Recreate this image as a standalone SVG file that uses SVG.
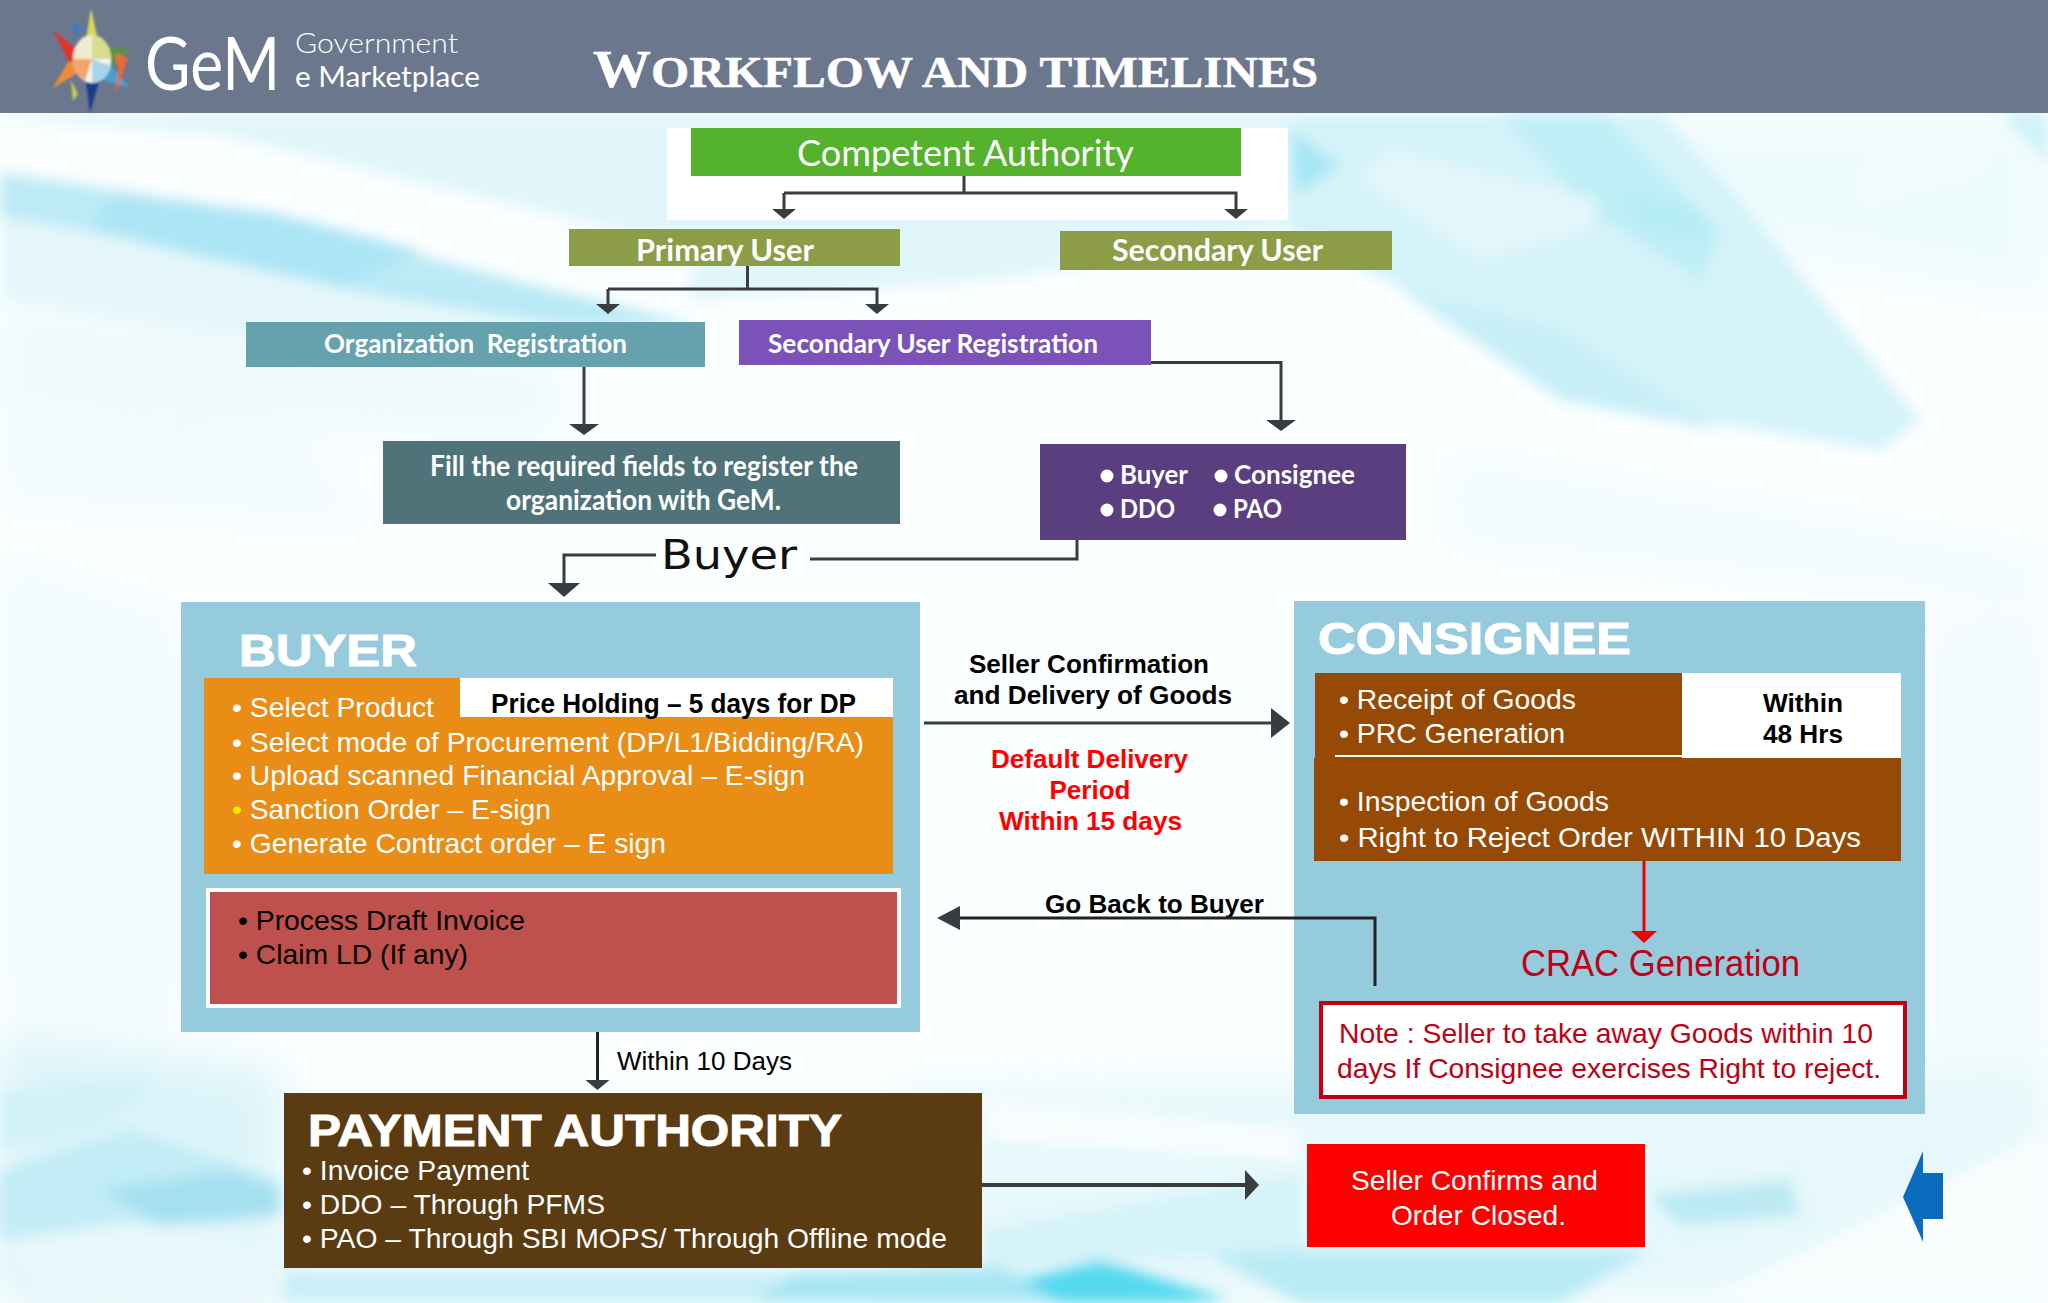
<svg xmlns="http://www.w3.org/2000/svg" width="2048" height="1303" viewBox="0 0 2048 1303">
<style>
.la{font-family:Lato,"Open Sans","Noto Sans",sans-serif;fill:#fff}
.ab{font-family:"Liberation Sans",Arial,sans-serif;font-weight:700}
.a{font-family:"Liberation Sans",Arial,sans-serif}
.w{fill:#fff}.k{fill:#000}.r{fill:#f00}.cr{fill:#c00014}
.h{font-family:"Liberation Sans",Arial,sans-serif;font-weight:700;fill:#fff;stroke:#fff;stroke-width:1}
.t{font-size:28px}
.c{fill:none;stroke:#3a3d40;stroke-width:3}
.hd{fill:#3a3d40}
</style>
<defs>
<filter id="b1" x="-20%" y="-20%" width="140%" height="140%"><feGaussianBlur stdDeviation="7"/></filter>
<filter id="b3" x="-20%" y="-20%" width="140%" height="140%"><feGaussianBlur stdDeviation="22"/></filter>
<filter id="b2" x="-5%" y="-5%" width="110%" height="110%"><feGaussianBlur stdDeviation="1.2"/></filter>
<marker id="s" markerUnits="userSpaceOnUse" markerWidth="24" markerHeight="24" refX="0" refY="12" orient="auto"><path class="hd" d="M0 0L10 12L0 24z"/></marker>
<marker id="m" markerUnits="userSpaceOnUse" markerWidth="30" markerHeight="30" refX="0" refY="15" orient="auto"><path class="hd" d="M0 0L11 15L0 30z"/></marker>
<marker id="b" markerUnits="userSpaceOnUse" markerWidth="32" markerHeight="32" refX="0" refY="16" orient="auto"><path class="hd" d="M0 0L14 16L0 32z"/></marker>
<marker id="n" markerUnits="userSpaceOnUse" markerWidth="15" markerHeight="30" refX="0" refY="15" orient="auto"><path class="hd" d="M0 0L14 15L0 30z"/></marker>
<marker id="l" markerUnits="userSpaceOnUse" markerWidth="20" markerHeight="30" refX="0" refY="15" orient="auto"><path class="hd" d="M0 0L19 15L0 30z"/></marker>
<marker id="g" markerUnits="userSpaceOnUse" markerWidth="24" markerHeight="24" refX="0" refY="12" orient="auto"><path class="hd" d="M0 0L23 12L0 24z"/></marker>
<marker id="red" markerUnits="userSpaceOnUse" markerWidth="26" markerHeight="26" refX="0" refY="13" orient="auto"><path fill="#f00000" d="M0 0L12 13L0 26z"/></marker>
</defs>

<g id="background">
<rect width="2048" height="1303" fill="#fbfeff"/>
<g filter="url(#b3)">
<polygon points="1290,113 2048,113 2048,300 1700,240 1600,113" fill="#eefbfd"/>
<polygon points="0,300 560,360 560,440 0,420" fill="#eefafc"/>
<polygon points="0,400 300,450 380,520 0,500" fill="#f1fbfd"/>
<polygon points="0,1030 280,1070 280,1290 0,1303" fill="#dcf4f9"/>
<polygon points="900,1090 2048,1070 2048,1303 900,1303" fill="#e6f8fb"/>
<polygon points="1450,460 2048,560 2048,600 1450,540" fill="#f0fbfd"/>
<polygon points="1930,620 2048,620 2048,1070 1930,1070" fill="#f2fbfd"/>
<polygon points="0,560 180,620 180,1030 0,1000" fill="#f1fbfd"/>
</g>
<g filter="url(#b1)">
<polygon points="0,113 700,113 1290,113 1290,230 1000,280 700,300 350,200 0,120" fill="#e1f6fa"/>
<polygon points="0,118 220,135 700,250 680,310 330,215 0,170" fill="#fafeff"/>
<polygon points="0,172 268,213 535,286 700,325 560,325 360,292 230,268 90,232 0,218" fill="#bdeaf6"/>
<polygon points="110,195 270,212 420,250 340,290 230,265 90,228" fill="#ace5f5"/>
<polygon points="350,280 530,285 680,320 560,325 360,310" fill="#b8e9f5"/>
<polygon points="0,218 90,232 360,292 560,325 300,350 0,300" fill="#e6f7fb"/>
<polygon points="1290,113 1660,113 1740,200 1920,420 1880,450 1700,420 1500,340 1290,230" fill="#d4f3f9"/>
<polygon points="1290,130 1340,165 1295,195" fill="#a6e6f5"/>
<polygon points="1500,113 1600,113 1720,230 1700,280 1590,210" fill="#bfeef7"/>
<polygon points="1390,150 1600,200 1590,230 1480,260 1360,180" fill="#e3f7fb"/>
<polygon points="1400,290 1560,330 1720,430 1560,400" fill="#c8eff7"/>
<polygon points="1620,190 1700,210 1710,240 1640,230" fill="#b6ecf6"/>
<polygon points="1880,113 1990,113 1980,170 1860,200" fill="#f4fcfe"/>
<polygon points="2000,113 2048,113 2048,165" fill="#cff2f9"/>
<polygon points="0,1170 130,1130 280,1180 280,1210 120,1230 0,1240" fill="#c2ecf6"/>
<polygon points="100,1190 230,1170 280,1190 280,1215 160,1225" fill="#a5e0f0"/>
<polygon points="0,1090 160,1080 100,1130 0,1150" fill="#d2f1f8"/>
<polygon points="0,1240 130,1222 284,1240 284,1303 40,1303" fill="#e8f8fb"/>
<polygon points="284,1270 1000,1270 1200,1303 284,1303" fill="#c9eff7"/>
<polygon points="800,1272 1000,1268 1100,1303 750,1303" fill="#a8e6f4"/>
<polygon points="1020,1280 1100,1260 1230,1300 1180,1303 1060,1303" fill="#55d9ef"/>
<polygon points="1200,1250 1650,1250 1560,1303 1300,1303" fill="#b9ebf5"/>
<polygon points="1650,1195 1790,1180 1800,1215 1680,1225" fill="#bce9f3"/>
<polygon points="1700,1303 2048,1130 2048,1303" fill="#f8fdfe"/>
<polygon points="985,1100 1300,1130 1300,1160 985,1140" fill="#f8fdfe"/>
<polygon points="985,1230 1300,1175 1300,1250 985,1268" fill="#d4f3f9"/>
</g>
<rect x="667" y="128" width="621" height="92" fill="#fff"/>
</g>

<g id="header">
<rect width="2048" height="113" fill="#6b778d"/>
<g id="logo" filter="url(#b2)">
<polygon points="91,8 98,40 104,60 80,60 86,40" fill="#dcd55a"/>
<polygon points="130,50 104,46 100,62 112,66" fill="#5a9440"/>
<polygon points="53,30 68,42 86,60 74,72 66,56" fill="#e4312b"/>
<polygon points="53,88 68,62 82,58 86,68" fill="#ef8a3a"/>
<polygon points="130,88 108,62 90,68 96,78" fill="#4a9fd0"/>
<polygon points="90,113 86,82 92,68 100,78" fill="#1c3c88"/>
<polygon points="72,23 88,30 78,32 76,42" fill="#3f7dbb"/>
<polygon points="130,60 118,96 120,72 117,55" fill="#e8693a" transform="translate(-2 -2)"/>
<polygon points="71,80 78,94 73,101" fill="#c9cc53"/>
<ellipse cx="92" cy="59" rx="19" ry="24" fill="#f4f4ee"/>
<path d="M92 35A19 24 0 0 1 111 59L92 59z" fill="#d9dc8e"/>
<path d="M92 59L73 59A19 24 0 0 1 92 35z" fill="#f2ead0"/>
<path d="M92 59L73 59A19 24 0 0 0 85 81z" fill="#f2a66e"/>
<path d="M92 59L111 66A19 24 0 0 1 92 83z" fill="#a8d3ea"/>
</g>
<text class="la" x="145" y="90" font-size="73" font-weight="400" textLength="135" lengthAdjust="spacingAndGlyphs">GeM</text>
<text class="la" x="295" y="53" font-size="28" font-weight="300" textLength="163" lengthAdjust="spacingAndGlyphs">Government</text>
<text class="la" x="295" y="87" font-size="28" textLength="185" lengthAdjust="spacingAndGlyphs">e Marketplace</text>
<text id="title" x="593" y="87" font-family="'Liberation Serif',serif" font-weight="700" fill="#fff" stroke="#fff" stroke-width=".5" font-size="44" textLength="725" lengthAdjust="spacingAndGlyphs"><tspan font-size="52">W</tspan>ORKFLOW AND TIMELINES</text>
</g>

<g id="competent-authority"><rect x="691" y="128" width="550" height="48" fill="#55b22c"/>
<text class="la" x="797" y="166" font-size="37" textLength="337" lengthAdjust="spacingAndGlyphs">Competent Authority</text></g>
<g id="primary-user"><rect x="569" y="229" width="331" height="37" fill="#8c9c47"/>
<text class="la" x="636" y="261" font-size="31" font-weight="700" textLength="178" lengthAdjust="spacingAndGlyphs">Primary User</text></g>
<g id="secondary-user"><rect x="1060" y="231" width="332" height="39" fill="#8c9c47"/>
<text class="la" x="1112" y="261" font-size="31" font-weight="700" textLength="211" lengthAdjust="spacingAndGlyphs">Secondary User</text></g>
<g id="organization-registration"><rect x="246" y="322" width="459" height="45" fill="#66a2ad"/>
<text class="la" x="324" y="353" font-size="27" font-weight="700" style="white-space:pre" textLength="303" lengthAdjust="spacingAndGlyphs">Organization  Registration</text></g>
<g id="secondary-user-registration"><rect x="739" y="320" width="412" height="45" fill="#7a52b8"/>
<text class="la" x="768" y="353" font-size="27" font-weight="700" textLength="330" lengthAdjust="spacingAndGlyphs">Secondary User Registration</text></g>
<g id="fill-fields"><rect x="383" y="441" width="517" height="83" fill="#4f7378"/>
<text class="la" x="430" y="476" font-size="28" font-weight="700" textLength="428" lengthAdjust="spacingAndGlyphs">Fill the required fields to register the</text>
<text class="la" x="506" y="510" font-size="28" font-weight="700" textLength="275" lengthAdjust="spacingAndGlyphs">organization with GeM.</text></g>
<g id="roles"><rect x="1040" y="444" width="366" height="96" fill="#5a3e80"/>
<g class="la" font-size="27" font-weight="700">
<circle cx="1107" cy="476" r="6.500" fill="#fff"/><text class="la" x="1120" y="484" textLength="68" lengthAdjust="spacingAndGlyphs">Buyer</text>
<circle cx="1221" cy="476" r="6.500" fill="#fff"/><text class="la" x="1234" y="484" textLength="121" lengthAdjust="spacingAndGlyphs">Consignee</text>
<circle cx="1107" cy="510" r="6.500" fill="#fff"/><text class="la" x="1120" y="518" textLength="55" lengthAdjust="spacingAndGlyphs">DDO</text>
<circle cx="1220" cy="510" r="6.500" fill="#fff"/><text class="la" x="1233" y="518" textLength="49" lengthAdjust="spacingAndGlyphs">PAO</text>
</g></g>
<text id="buyer-label" x="661" y="569" font-family="'DejaVu Sans',sans-serif" font-size="40" fill="#111" textLength="136" lengthAdjust="spacingAndGlyphs">Buyer</text>

<g id="buyer"><rect x="181" y="602" width="739" height="430" fill="#96cadd"/>
<text class="h" x="239" y="666" font-size="45" textLength="178" lengthAdjust="spacingAndGlyphs">BUYER</text>
<rect x="204" y="678" width="689" height="196" fill="#e98d16"/>
<rect x="460" y="678" width="433" height="39" fill="#fff"/>
<text class="ab k" x="491" y="713" font-size="27" textLength="365" lengthAdjust="spacingAndGlyphs">Price Holding – 5 days for DP</text>
<g class="a w t">
<text x="232" y="717" textLength="202" lengthAdjust="spacingAndGlyphs">• Select Product</text>
<text x="232" y="752" textLength="632" lengthAdjust="spacingAndGlyphs">• Select mode of Procurement (DP/L1/Bidding/RA)</text>
<text x="232" y="785" textLength="573" lengthAdjust="spacingAndGlyphs">• Upload scanned Financial Approval – E-sign</text>
<text x="232" y="819" textLength="319" lengthAdjust="spacingAndGlyphs"><tspan fill="#ffe800">•</tspan> Sanction Order – E-sign</text>
<text x="232" y="853" textLength="434" lengthAdjust="spacingAndGlyphs">• Generate Contract order – E sign</text>
</g>
<rect x="208" y="890" width="691" height="116" fill="#be504d" stroke="#fff" stroke-width="4"/>
<g class="a k t">
<text x="238" y="930" textLength="287" lengthAdjust="spacingAndGlyphs">• Process Draft Invoice</text>
<text x="238" y="964" textLength="230" lengthAdjust="spacingAndGlyphs">• Claim LD (If any)</text>
</g></g>

<g id="delivery-labels">
<text class="ab k" x="969" y="673" font-size="26" textLength="240" lengthAdjust="spacingAndGlyphs">Seller Confirmation</text>
<text class="ab k" x="954" y="704" font-size="26" textLength="278" lengthAdjust="spacingAndGlyphs">and Delivery of Goods</text>
<text class="ab r" x="991" y="768" font-size="26" textLength="197" lengthAdjust="spacingAndGlyphs">Default Delivery</text>
<text class="ab r" x="1090" y="799" font-size="26" text-anchor="middle">Period</text>
<text class="ab r" x="999" y="830" font-size="26" textLength="183" lengthAdjust="spacingAndGlyphs">Within 15 days</text>
<text class="ab k" x="1045" y="913" font-size="26" textLength="219" lengthAdjust="spacingAndGlyphs">Go Back to Buyer</text>
</g>

<g id="consignee"><rect x="1294" y="601" width="631" height="513" fill="#96cadd"/>
<text class="h" x="1318" y="654" font-size="45" textLength="313" lengthAdjust="spacingAndGlyphs">CONSIGNEE</text>
<rect x="1315" y="673" width="367" height="85" fill="#964a06"/>
<rect x="1682" y="673" width="219" height="85" fill="#fff"/>
<rect x="1314" y="758" width="587" height="103" fill="#964a06"/>
<rect x="1335" y="755" width="347" height="2" fill="#fff"/>
<g class="a w t">
<text x="1339" y="709" textLength="237" lengthAdjust="spacingAndGlyphs">• Receipt of Goods</text>
<text x="1339" y="743" textLength="226" lengthAdjust="spacingAndGlyphs">• PRC Generation</text>
<text x="1339" y="811" textLength="270" lengthAdjust="spacingAndGlyphs">• Inspection of Goods</text>
<text x="1339" y="847" textLength="522" lengthAdjust="spacingAndGlyphs">• Right to Reject Order WITHIN 10 Days</text>
</g>
<text class="ab k" x="1763" y="712" font-size="26" textLength="80" lengthAdjust="spacingAndGlyphs">Within</text>
<text class="ab k" x="1763" y="743" font-size="26" textLength="80" lengthAdjust="spacingAndGlyphs">48 Hrs</text>
<text class="a cr" x="1521" y="976" font-size="36" textLength="279" lengthAdjust="spacingAndGlyphs">CRAC Generation</text>
<rect x="1321" y="1003" width="584" height="94" fill="#fff" stroke="#c00014" stroke-width="4"/>
<text class="a cr t" x="1339" y="1043" textLength="534" lengthAdjust="spacingAndGlyphs">Note : Seller to take away Goods within 10</text>
<text class="a cr t" x="1337" y="1078" textLength="544" lengthAdjust="spacingAndGlyphs">days If Consignee exercises Right to reject.</text>
</g>

<text id="within-10-days" class="a k" x="617" y="1070" font-size="26" textLength="175" lengthAdjust="spacingAndGlyphs">Within 10 Days</text>

<g id="payment-authority"><rect x="284" y="1093" width="698" height="175" fill="#5b3b11"/>
<text class="h" x="308" y="1146" font-size="44" textLength="534" lengthAdjust="spacingAndGlyphs">PAYMENT AUTHORITY</text>
<g class="a w t">
<text x="302" y="1180" textLength="227" lengthAdjust="spacingAndGlyphs">• Invoice Payment</text>
<text x="302" y="1214" textLength="303" lengthAdjust="spacingAndGlyphs">• DDO – Through PFMS</text>
<text x="302" y="1248" textLength="645" lengthAdjust="spacingAndGlyphs">• PAO – Through SBI MOPS/ Through Offline mode</text>
</g></g>

<g id="order-closed"><rect x="1307" y="1144" width="338" height="103" fill="#ff0000"/>
<text class="a w t" x="1351" y="1190" textLength="247" lengthAdjust="spacingAndGlyphs">Seller Confirms and</text>
<text class="a w t" x="1391" y="1225" textLength="175" lengthAdjust="spacingAndGlyphs">Order Closed.</text></g>

<polygon id="back-arrow" points="1903,1197 1923,1151 1923,1173 1943,1173 1943,1219 1923,1219 1923,1242" fill="#0b6cbf"/>

<g id="connectors">
<path class="c" d="M964 176V193M784 193H1236V209" marker-end="url(#s)"/>
<path class="c" d="M784 193V209" marker-end="url(#s)"/>
<path class="c" d="M747.5 266V289M608 289H877V304" marker-end="url(#s)"/>
<path class="c" d="M608 289V304" marker-end="url(#s)"/>
<path class="c" d="M584 367V424" marker-end="url(#m)"/>
<path class="c" d="M1151 362.500H1281V420" marker-end="url(#m)"/>
<path class="c" d="M1077 540V559H810"/>
<path class="c" d="M656 555H564V583" marker-end="url(#b)"/>
<path class="c" d="M924 723H1271" marker-end="url(#l)"/>
<path class="c" d="M1375 986V918H960" marker-end="url(#g)" style="stroke:#222"/>
<path class="c" d="M597.500 1032V1080" marker-end="url(#s)" style="stroke:#222"/>
<path class="c" d="M982 1185H1245" marker-end="url(#n)" style="stroke-width:4"/>
<path fill="none" stroke="#f00000" stroke-width="3" d="M1644 861V931" marker-end="url(#red)"/>
</g>
</svg>
